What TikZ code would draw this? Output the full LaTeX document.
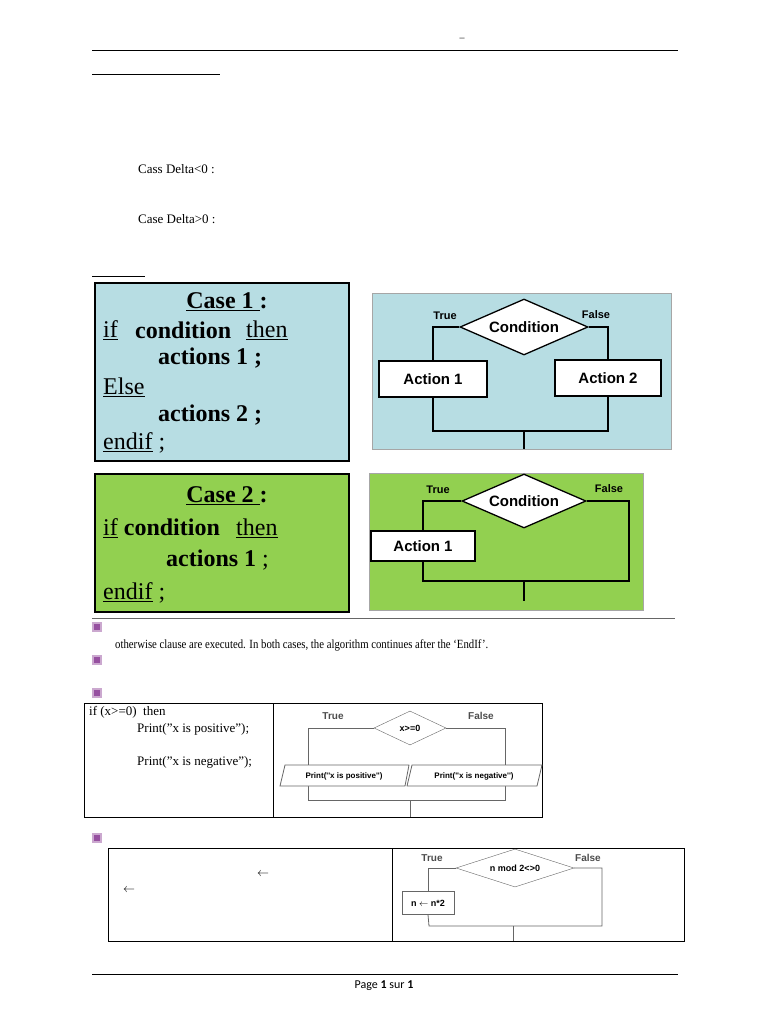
\documentclass[tikz,border=0pt]{standalone}
\usepackage{fontspec}
\setmainfont{Liberation Serif}
\newfontfamily\sansf{Liberation Sans}
\newfontfamily\calf{Carlito}
\usetikzlibrary{shapes.geometric}
\definecolor{lblue}{RGB}{183,221,227}
\definecolor{lgreen}{RGB}{146,208,80}
\definecolor{bpurple}{RGB}{150,80,160}
\begin{document}
\begin{tikzpicture}[x=1pt,y=-1pt,
 code/.style={anchor=west,inner sep=0,font=\fontsize{24}{24}\selectfont},
 small/.style={anchor=west,inner sep=0,font=\fontsize{13}{13}\selectfont},
 dia/.style={diamond,aspect=2.3,draw,fill=white,inner sep=0},
 act/.style={draw,fill=white,inner sep=0,font=\sansf\bfseries\fontsize{15}{15}\selectfont},
 lbl/.style={inner sep=0,font=\sansf\bfseries\fontsize{11}{11}\selectfont},
 flow/.style={line width=1.3pt},
 thin flow/.style={draw=black!60,line width=0.8pt},
 ptxt/.style={inner sep=0,font=\sansf\bfseries\fontsize{8}{8}\selectfont},
 bul/.style={draw=bpurple!50,fill=bpurple,minimum size=8pt,inner sep=0,line width=1.5pt}]
\useasboundingbox (0,0) rectangle (768,1024);
% header
\coordinate (h1) at (92,50); \coordinate (h2) at (678,50);
\draw[line width=0.6pt] (h1) -- (h2);
\node[inner sep=0] (us) at (462,38) {\_};
\coordinate (u1) at (92,75); \coordinate (u2) at (220,75);
\draw[line width=1pt] (u1) -- (u2);
\node[small] (d1) at (138,169) {Cass Delta<0 :};
\node[small] (d2) at (138,219) {Case Delta>0 :};
\coordinate (s1) at (92,276); \coordinate (s2) at (145,276);
\draw[line width=0.8pt] (s1) -- (s2);
% case 1 box
\node[draw,line width=1.5pt,fill=lblue,minimum width=254pt,minimum height=178pt,anchor=north west] (c1) at (94,282) {};
\node[code,anchor=center] (c1t) at (227,302) {\bfseries\underline{Case 1 }:};
\node[code] (c1a) at (103,330) {\underline{if}};
\node[code] (c1b) at (135,330) {\bfseries condition};
\node[code] (c1c) at (246,330) {\underline{then}};
\node[code] (c1d) at (158,358) {\bfseries actions 1 ;};
\node[code] (c1e) at (103,387) {\underline{Else}};
\node[code] (c1f) at (158,415) {\bfseries actions 2 ;};
\node[code] (c1g) at (103,443) {\underline{endif} ;};
% diagram 1
\node[draw=black!35,line width=1pt,fill=lblue,minimum width=299pt,minimum height=156pt,anchor=north west] (g1) at (372,293) {};
\node[dia,line width=1.3pt,minimum width=128pt,minimum height=56pt,font=\sansf\bfseries\fontsize{15}{15}\selectfont] (cd1) at (524,327) {Condition};
\node[act,line width=1.3pt,minimum width=108pt,minimum height=36pt] (a1) at (433,379) {Action 1};
\node[act,line width=1.3pt,minimum width=106pt,minimum height=36pt] (a2) at (608,378) {Action 2};
\coordinate (j1) at (524,431); \coordinate (e1) at (524,449);
\draw[flow] (cd1.west) -| (a1.north);
\draw[flow] (cd1.east) -| (a2.north);
\draw[flow] (a1.south) |- (j1) -| (a2.south);
\draw[flow] (j1) -- (e1);
\node[lbl] (t1) at (445,316) {True};
\node[lbl] (f1) at (596,315) {False};
% case 2 box
\node[draw,line width=1.5pt,fill=lgreen,minimum width=254pt,minimum height=138pt,anchor=north west] (c2) at (94,473) {};
\node[code,anchor=center] (c2t) at (227,496) {\bfseries\underline{Case 2 }:};
\node[code] (c2a) at (103,528) {\underline{if} \bfseries condition};
\node[code] (c2c) at (236,528) {\underline{then}};
\node[code] (c2d) at (166,560) {\textbf{actions 1} ;};
\node[code] (c2g) at (103,593) {\underline{endif} ;};
% diagram 2
\node[draw=black!35,line width=1pt,fill=lgreen,minimum width=274pt,minimum height=137pt,anchor=north west] (g2) at (369,473) {};
\node[dia,line width=1.3pt,minimum width=124pt,minimum height=54pt,font=\sansf\bfseries\fontsize{15}{15}\selectfont] (cd2) at (524,501) {Condition};
\node[act,line width=1.3pt,minimum width=104pt,minimum height=30pt] (a3) at (423,546) {Action 1};
\coordinate (r2) at (629,501); \coordinate (b2) at (629,581);
\coordinate (j2) at (524,581); \coordinate (e2) at (524,601);
\draw[flow] (cd2.west) -| (a3.north);
\draw[flow] (cd2.east) -- (r2) -- (b2) -- (j2);
\draw[flow] (a3.south) |- (j2) -- (e2);
\node[lbl] (t2) at (438,490) {True};
\node[lbl] (f2) at (609,489) {False};
% separator
\coordinate (l1) at (92,618); \coordinate (l2) at (675,618);
\draw[black!60,line width=0.8pt] (l1) -- (l2);
% bullets
\node[bul] (b1) at (97,627) {};
\node[bul] (bb2) at (97,660) {};
\node[bul] (b3) at (97,693) {};
\node[bul] (b4) at (97,838) {};
\node[small,font=\fontsize{12.5}{12.5}\selectfont,xscale=0.86,anchor=west] (tx) at (115,645) {otherwise clause are executed. In both cases, the algorithm continues after the `EndIf'.};
% table 1
\node[draw,line width=1pt,minimum width=458pt,minimum height=114pt,anchor=north west] (tb1) at (84,703) {};
\coordinate (v1a) at (273,703); \coordinate (v1b) at (273,817);
\draw[line width=1pt] (v1a) -- (v1b);
\node[small] (p0) at (89,712) {if (x>=0)\ \ then};
\node[small] (p1) at (137,729) {Print(''x is positive'');};
\node[small] (p2) at (137,762) {Print(''x is negative'');};
\node[dia,aspect=2.1,draw=black!60,minimum width=72pt,minimum height=34pt,font=\sansf\bfseries\fontsize{9}{9}\selectfont] (x0) at (410,728) {x>=0};
\coordinate (xl) at (308,728); \coordinate (xr) at (505,728);
\coordinate (xbl) at (308,800); \coordinate (xbr) at (505,800);
\coordinate (xj) at (410,800); \coordinate (xe) at (410,817);
\draw[thin flow] (x0.west) -- (xl) -- (308,766);
\draw[thin flow] (x0.east) -- (xr) -- (505,766);
\draw[thin flow] (308,786) -- (xbl) -- (xbr) -- (505,786);
\draw[thin flow] (xj) -- (xe);
\draw[thin flow,fill=white] (285,765) -- (409,765) -- (405,786) -- (280,786) -- cycle;
\draw[thin flow,fill=white] (412,765) -- (542,765) -- (537,786) -- (407,786) -- cycle;
\node[ptxt] (pp) at (344,776) {Print(''x is positive'')};
\node[ptxt] (pn) at (474,776) {Print(''x is negative'')};
\node[lbl,font=\sansf\bfseries\fontsize{10}{10}\selectfont,text=black!70] (t3) at (333,716) {True};
\node[lbl,font=\sansf\bfseries\fontsize{10}{10}\selectfont,text=black!70] (f3) at (481,716) {False};
% table 2
\node[draw,line width=1pt,minimum width=576pt,minimum height=93pt,anchor=north west] (tb2) at (108,848) {};
\coordinate (v2a) at (392,848); \coordinate (v2b) at (392,941);
\draw[line width=1pt] (v2a) -- (v2b);
\node[small] (ar1) at (257,874) {$\leftarrow$};
\node[small] (ar2) at (123,890) {$\leftarrow$};
\node[dia,aspect=3.1,draw=black!60,minimum width=118pt,minimum height=38pt,font=\sansf\bfseries\fontsize{9}{9}\selectfont] (nm) at (515,868) {n mod 2<>0};
\node[draw=black!60,fill=white,minimum width=52pt,minimum height=23pt,inner sep=0,font=\sansf\bfseries\fontsize{9}{9}\selectfont] (nn) at (428,903) {n $\leftarrow$ n*2};
\coordinate (nr) at (602,868); \coordinate (nb) at (602,926);
\coordinate (nbl) at (429,926); \coordinate (nj) at (513,926); \coordinate (ne) at (513,941);
\draw[thin flow] (nm.west) -| (nn.north);
\draw[thin flow] (nm.east) -- (nr) -- (nb) -- (nbl) -- (nn.south);
\draw[thin flow] (nj) -- (ne);
\node[lbl,font=\sansf\bfseries\fontsize{10}{10}\selectfont,text=black!70] (t4) at (432,858) {True};
\node[lbl,font=\sansf\bfseries\fontsize{10}{10}\selectfont,text=black!70] (f4) at (588,858) {False};
% footer
\coordinate (fl1) at (92,974); \coordinate (fl2) at (678,974);
\draw[line width=0.6pt] (fl1) -- (fl2);
\node[inner sep=0,font=\calf\fontsize{12}{12}\selectfont] (pg) at (384,986) {Page \textbf{1} sur \textbf{1}};
\end{tikzpicture}
\end{document}
